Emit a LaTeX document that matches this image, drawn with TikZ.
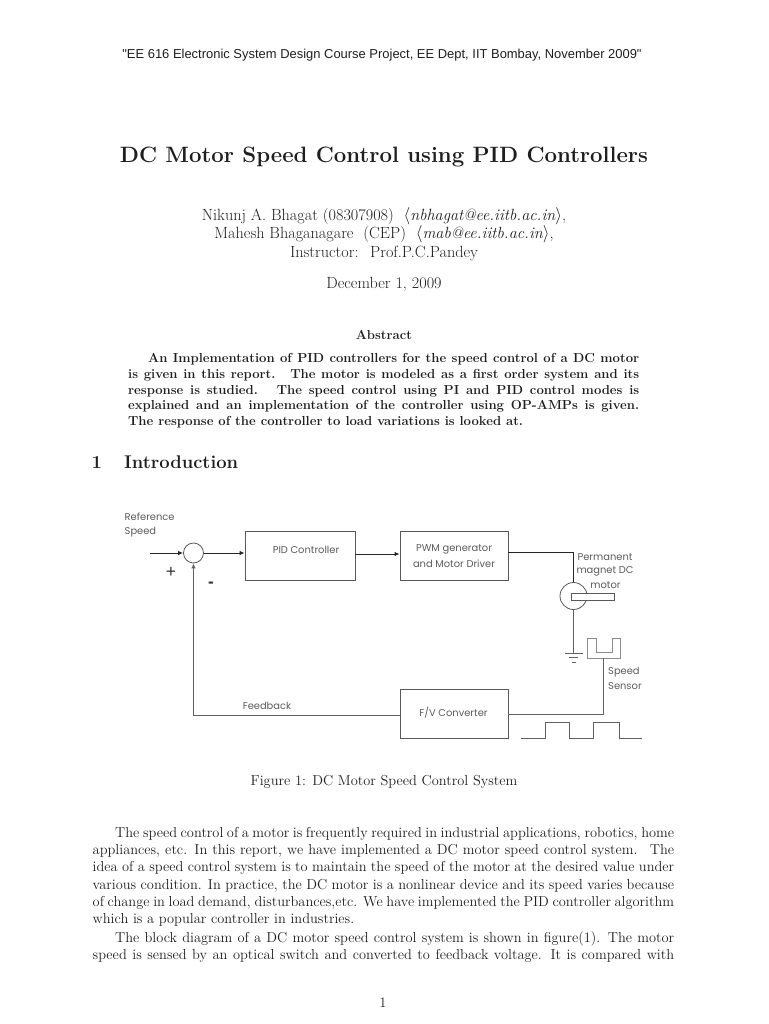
\documentclass[tikz,border=0pt]{standalone}
\usepackage{fontspec}
\usetikzlibrary{arrows.meta}
\newfontfamily\headfont{Liberation Sans}
\newfontfamily\figfont{Poppins}
\newcommand{\LB}[2]{\makebox[#1pt][s]{#2}}
\definecolor{figgray}{gray}{0.36}
\tikzset{
  txt/.style={inner sep=0pt,anchor=base,text=black!88},
  bodyl/.style={inner sep=0pt,anchor=base west,text=black!88,font=\fontsize{14.4}{17}\selectfont},
  absl/.style={inner sep=0pt,anchor=base west,text=black!88,font=\fontsize{13.1}{16}\selectfont\bfseries},
  figt/.style={inner sep=0pt,anchor=center,text=figgray,font=\figfont\fontsize{9.9}{11}\selectfont},
  block/.style={draw=black!65,line width=0.8pt,rectangle,inner sep=0pt,fill=white},
  conn/.style={draw=black!85,line width=1pt},
  greyc/.style={draw=black!62,line width=1pt},
  arrowc/.style={conn,-{Latex[length=5pt,width=4.5pt]}},
}
\begin{document}
\begin{tikzpicture}[x=1pt,y=-1pt]
\useasboundingbox[fill=white] (0,0) rectangle (768,1024);
% page text
\node[txt,font=\headfont\fontsize{12.95}{15}\selectfont] (hd) at (382,59) {"EE 616 Electronic System Design Course Project, EE Dept, IIT Bombay, November 2009"};
\node[txt,font=\fontsize{22.2}{26}\selectfont\bfseries] (ti) at (384,163) {DC Motor Speed Control using PID Controllers};
\node[txt,font=\fontsize{16.2}{19}\selectfont] (a1) at (384,220.5) {Nikunj A. Bhagat (08307908) \ $\langle${\itshape nbhagat@ee.iitb.ac.in}$\rangle$,};
\node[txt,font=\fontsize{16.2}{19}\selectfont] (a2) at (384,238.5) {Mahesh Bhaganagare \ (CEP) \ $\langle${\itshape mab@ee.iitb.ac.in}$\rangle$,};
\node[txt,font=\fontsize{16.2}{19}\selectfont] (a3) at (384,257) {Instructor: \ Prof.P.C.Pandey};
\node[txt,font=\fontsize{16.2}{19}\selectfont] (da) at (384,288) {December 1, 2009};
\node[txt,font=\fontsize{13.1}{16}\selectfont\bfseries] (ab) at (384,339) {Abstract};
\node[absl] (b1) at (148,362) {\LB{491}{An Implementation of PID controllers for the speed control of a DC motor}};
\node[absl] (b2) at (128,378) {\LB{511}{is given in this report. \ The motor is modeled as a first order system and its}};
\node[absl] (b3) at (128,394) {\LB{511}{response is studied. \ The speed control using PI and PID control modes is}};
\node[absl] (b4) at (128,409.5) {\LB{511}{explained and an implementation of the controller using OP-AMPs is given.}};
\node[absl] (b5) at (128,425) {The response of the controller to load variations is looked at.};
\node[inner sep=0pt,anchor=base west,text=black!88,font=\fontsize{18.4}{22}\selectfont\bfseries] (s1) at (91.5,468) {1};
\node[inner sep=0pt,anchor=base west,text=black!88,font=\fontsize{18.4}{22}\selectfont\bfseries] (s2) at (124,468) {Introduction};
\node[txt,font=\fontsize{14.4}{17}\selectfont] (cap) at (384,785) {Figure 1: DC Motor Speed Control System};
\node[bodyl] (p1) at (115,837) {\LB{559}{The speed control of a motor is frequently required in industrial applications, robotics, home}};
\node[bodyl] (p2) at (92.5,854) {\LB{581.5}{appliances, etc. In this report, we have implemented a DC motor speed control system. \ The}};
\node[bodyl] (p3) at (92.5,871.5) {\LB{581.5}{idea of a speed control system is to maintain the speed of the motor at the desired value under}};
\node[bodyl] (p4) at (92.5,889) {\LB{581.5}{various condition. In practice, the DC motor is a nonlinear device and its speed varies because}};
\node[bodyl] (p5) at (92.5,906) {\LB{581.5}{of change in load demand, disturbances,etc. We have implemented the PID controller algorithm}};
\node[bodyl] (p6) at (92.5,923) {which is a popular controller in industries.};
\node[bodyl] (p7) at (115,942) {\LB{559}{The block diagram of a DC motor speed control system is shown in figure(1). The motor}};
\node[bodyl] (p8) at (92.5,959) {\LB{581.5}{speed is sensed by an optical switch and converted to feedback voltage. It is compared with}};
\node[txt,font=\fontsize{14.4}{17}\selectfont] (pg) at (383,1007) {1};
% figure: blocks
\node[block,circle,minimum size=20pt] (sum) at (193.5,553) {};
\node[block,minimum width=110pt,minimum height=49pt] (pid) at (300,555.5) {};
\node[block,minimum width=108pt,minimum height=49pt] (pwm) at (454,555.5) {};
\node[block,minimum width=108pt,minimum height=49pt] (fv) at (454,713.5) {};
\node[figt] (pidt) at (306,550) {PID Controller};
\node[figt] (pwmt1) at (454,549) {PWM generator};
\node[figt] (pwmt2) at (454,564) {and Motor Driver};
\node[figt] (fvt) at (453.5,713) {F/V Converter};
\node[figt,anchor=west] (rt1) at (124.5,517) {Reference};
\node[figt,anchor=west] (rt2) at (124.5,532) {Speed};
\node[figt] (fbt) at (267,705.5) {Feedback};
\node[figt] (mt1) at (605,557) {Permanent};
\node[figt] (mt2) at (605,571) {magnet DC};
\node[figt] (mt3) at (605.5,585.5) {motor};
\node[figt,anchor=west] (st1) at (608,672) {Speed};
\node[figt,anchor=west] (st2) at (608,686) {Sensor};
\node[inner sep=0pt,text=black!80,font=\headfont\fontsize{17.5}{20}\selectfont] (plus) at (171,572) {+};
\node[inner sep=0pt,text=black!80,font=\headfont\bfseries\fontsize{17}{20}\selectfont] (minus) at (211,585) {-};
% motor
\node[block,circle,minimum size=27pt] (motor) at (573.5,596) {};
\node[block,minimum width=43pt,minimum height=7pt] (shaft) at (592.5,596.5) {};
% sensor
\coordinate (u) at (603.5,658);
\draw[draw=black!45,line width=0.9pt,fill=white] (587,638) -- (596,638) -- (596,652) -- (612,652) -- (612,638) -- (620,638) -- (620,658) -- (587,658) -- cycle;
% ground
\coordinate (gnd) at (573.5,653);
\draw[greyc] (565,653) -- (583,653) (569,657.5) -- (578,657.5) (571.5,662) -- (575.5,662);
% connectors
\coordinate (in) at (150,553);
\draw[arrowc] (in) -- (sum.west);
\draw[arrowc] (sum.east) -- (pid.west |- sum.east);
\draw[arrowc] (pid.east |- 0,554) -- (pwm.west |- 0,554);
\draw[conn] (pwm.east |- 0,552) -| (motor.north);
\draw[greyc] (motor.south) -- (gnd);
\draw[greyc] (u) |- (fv.east |- 0,714);
\draw[greyc,-{Latex[length=5pt,width=4.5pt]}] (fv.west |- 0,715) -| (sum.south);
% pulse train
\coordinate (pa) at (521,738);
\draw[greyc] (pa) -- (545,738) -- (545,722) -- (569,722) -- (569,738) -- (593,738) -- (593,722) -- (619,722) -- (619,738) -- (642,738);
\end{tikzpicture}
\end{document}
